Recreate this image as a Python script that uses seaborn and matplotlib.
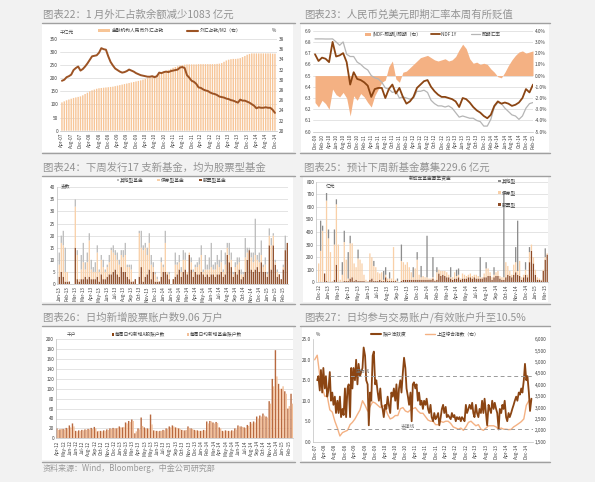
import numpy as np
import pandas as pd
import matplotlib
matplotlib.use("Agg")
import matplotlib.pyplot as plt
from matplotlib.patches import Rectangle
from matplotlib.lines import Line2D
from matplotlib.ticker import FuncFormatter
import seaborn as sns

# ======================= DATA =======================
# Panel 22: FX holdings (千亿元, bars) and FX holdings / M2 (%, right axis), Apr-07 .. Dec-14 monthly
p1_tick_labels = ["Apr-07", "Aug-07", "Dec-07", "Apr-08", "Aug-08", "Dec-08", "Apr-09", "Aug-09",
                  "Dec-09", "Apr-10", "Aug-10", "Dec-10", "Apr-11", "Aug-11", "Dec-11", "Apr-12",
                  "Aug-12", "Dec-12", "Apr-13", "Aug-13", "Dec-13", "Apr-14", "Aug-14", "Dec-14"]
p1_fx_holdings = [108, 112, 116, 119, 122, 125, 127, 129, 131,
                  135, 140, 145, 150, 154, 157, 160, 162, 163, 164, 165, 166,
                  167, 168, 170, 172, 174, 176, 178, 180, 182, 184, 186, 188,
                  190, 192, 195, 198, 201, 204, 207, 210, 213, 216, 220, 224,
                  228, 232, 236, 240, 243, 246, 249, 251, 252, 253, 253, 253,
                  253, 253, 254, 254, 254, 254, 254, 254, 254, 254, 255, 256,
                  258, 263, 268, 271, 273, 274, 274, 275, 277, 281, 285, 290,
                  293, 295, 295, 295, 295, 295, 295, 295, 295, 295, 294, 294]
p1_fx_m2 = [29.8, 30.0, 30.5, 30.7, 31.0, 31.9, 32.3, 32.6, 31.8,
            32.1, 32.6, 33.2, 33.9, 34.6, 34.7, 34.8, 35.3, 36.2, 36.0, 35.9, 34.6,
            33.5, 32.8, 32.2, 31.9, 31.6, 31.4, 31.5, 31.7, 32.0, 31.8, 31.6, 31.3,
            31.1, 30.9, 30.8, 30.7, 30.6, 30.6, 30.7, 30.5, 30.7, 31.4, 31.3, 31.5,
            31.6, 31.5, 31.7, 31.8, 31.9, 32.0, 32.4, 32.5, 32.3, 30.9, 30.4, 29.8,
            29.6, 29.2, 28.5, 28.4, 28.1, 27.9, 27.8, 27.5, 27.3, 27.2, 27.0, 26.7,
            26.6, 26.5, 26.3, 26.2, 26.0, 25.9, 25.7, 25.5, 26.1, 25.9, 25.9, 25.7,
            25.5, 25.2, 24.9, 24.4, 24.6, 24.5, 24.5, 24.6, 24.5, 24.5, 24.1, 23.5]

# Panel 23: USD/CNY, Dec-09 .. Feb-15 monthly
p2_months = pd.date_range("2009-12-01", periods=63, freq="MS")
p2_spread_pct = [-2.4, -2.8, -2.2, -2.5, -3.0, -1.2, -1.7, -1.9, -1.5, -2.0,
                 -3.6, -1.8, -2.2, -1.6, -1.9, -2.4, -2.8, -1.8, -1.2, -0.6,
                 -0.4, 0.8, 1.3, -0.3, -0.6, 0.3, 0.4, 0.7, 1.0, 1.3,
                 1.6, 1.7, 1.8, 1.6, 1.4, 1.3, 1.4, 1.5, 1.3, 1.4,
                 1.7, 2.3, 2.8, 2.4, 1.5, 1.1, 1.2, 1.0, 1.1, 1.0,
                 0.6, 0.3, -0.1, -0.2, 0.3, 0.9, 1.4, 1.8, 2.1, 2.2,
                 2.0, 2.1, 2.2]
p2_ndf = [6.69, 6.63, 6.66, 6.65, 6.62, 6.80, 6.67, 6.68, 6.70, 6.62,
          6.42, 6.53, 6.47, 6.46, 6.44, 6.41, 6.31, 6.38, 6.39, 6.39,
          6.30, 6.38, 6.42, 6.34, 6.39, 6.31, 6.25, 6.27, 6.31, 6.39,
          6.42, 6.45, 6.46, 6.40, 6.36, 6.33, 6.31, 6.31, 6.30, 6.29,
          6.27, 6.22, 6.30, 6.29, 6.26, 6.22, 6.19, 6.17, 6.14, 6.12,
          6.15, 6.23, 6.27, 6.25, 6.26, 6.25, 6.23, 6.24, 6.26, 6.30,
          6.38, 6.35, 6.42]
p2_spot = [6.827, 6.827, 6.827, 6.826, 6.826, 6.827, 6.80, 6.77, 6.80, 6.69,
           6.67, 6.67, 6.62, 6.60, 6.57, 6.55, 6.50, 6.48, 6.47, 6.44,
           6.39, 6.38, 6.35, 6.36, 6.30, 6.31, 6.30, 6.29, 6.30, 6.36,
           6.36, 6.37, 6.35, 6.28, 6.25, 6.23, 6.23, 6.22, 6.23, 6.21,
           6.17, 6.13, 6.14, 6.13, 6.12, 6.12, 6.10, 6.09, 6.05, 6.05,
           6.11, 6.22, 6.26, 6.25, 6.21, 6.18, 6.15, 6.14, 6.11, 6.14,
           6.21, 6.25, 6.26]

# Panel 24: weekly number of new funds (支数)
p3_weeks = pd.date_range("2013-01-04", periods=115, freq="7D")
p3_stock = [3, 5, 3, 1, 1, 1, 0, 0, 15, 2,
            1, 2, 2, 3, 2, 3, 2, 2, 2, 3,
            1, 4, 2, 2, 3, 4, 4, 5, 6, 4,
            3, 7, 5, 5, 3, 2, 1, 1, 2, 0,
            3, 7, 1, 3, 4, 6, 2, 5, 1, 1,
            1, 3, 5, 5, 4, 2, 0, 2, 3, 4,
            6, 3, 5, 6, 4, 12, 6, 3, 5, 4,
            4, 5, 4, 3, 4, 3, 4, 4, 3, 4,
            4, 5, 3, 4, 12, 9, 7, 3, 5, 4,
            6, 2, 3, 5, 10, 14, 6, 5, 6, 7,
            5, 9, 5, 5, 3, 16, 6, 16, 8, 3,
            4, 2, 6, 14, 17]
p3_bond = [5, 12, 13, 4, 4, 0, 0, 0, 17, 10,
           1, 4, 7, 3, 7, 15, 4, 3, 3, 10,
           4, 6, 5, 3, 4, 5, 10, 8, 6, 6,
           5, 5, 6, 7, 4, 5, 5, 0, 0, 0,
           18, 8, 13, 12, 8, 11, 6, 2, 3, 1,
           0, 6, 2, 12, 1, 2, 0, 0, 5, 4,
           3, 2, 5, 4, 1, 1, 3, 2, 2, 3,
           4, 7, 1, 3, 2, 3, 3, 2, 3, 4,
           3, 4, 2, 4, 3, 3, 3, 1, 2, 4,
           3, 2, 1, 6, 3, 0, 5, 4, 6, 3,
           4, 3, 2, 3, 1, 4, 10, 4, 1, 2,
           0, 0, 1, 0, 0]
p3_other = [5, 3, 6, 10, 0, 0, 0, 0, 3, 2,
            0, 6, 8, 3, 4, 3, 4, 2, 4, 3,
            1, 2, 3, 1, 1, 3, 1, 3, 2, 3,
            2, 2, 3, 5, 1, 1, 2, 0, 0, 0,
            1, 7, 2, 2, 3, 4, 4, 2, 1, 1,
            0, 2, 1, 5, 0, 1, 0, 0, 5, 1,
            3, 2, 4, 3, 0, 0, 2, 1, 1, 2,
            3, 4, 1, 6, 2, 5, 10, 2, 3, 4,
            3, 5, 1, 5, 2, 5, 3, 1, 2, 3,
            2, 2, 1, 8, 2, 1, 2, 4, 15, 2,
            4, 6, 1, 3, 1, 3, 3, 1, 1, 1,
            0, 0, 1, 6, 0]

# Panel 25: weekly new fund raising (亿元)
p4_weeks = pd.date_range("2012-12-21", periods=117, freq="7D")
p4_stock = [0, 5, 0, 70, 10, 5, 5, 5, 20, 140,
            5, 5, 5, 10, 10, 10, 30, 40, 10, 20,
            10, 10, 10, 10, 5, 5, 20, 30, 10, 10,
            10, 20, 10, 10, 40, 10, 10, 10, 10, 10,
            5, 0, 10, 20, 20, 20, 20, 20, 20, 20,
            20, 20, 20, 20, 20, 20, 20, 20, 30, 10,
            20, 70, 50, 60, 50, 40, 40, 30, 20, 30,
            30, 40, 20, 30, 30, 30, 40, 40, 30, 40,
            30, 30, 30, 30, 40, 40, 50, 50, 20, 40,
            50, 50, 30, 20, 20, 40, 60, 50, 40, 60,
            80, 60, 50, 20, 40, 60, 40, 160, 250, 150,
            60, 20, 20, 15, 90, 180, 220]
p4_bond = [150, 245, 410, 0, 640, 345, 235, 5, 280, 480,
           295, 15, 55, 310, 170, 20, 280, 270, 140, 100,
           180, 170, 140, 50, 15, 5, 210, 170, 120, 110,
           70, 50, 70, 10, 20, 20, 20, 20, 270, 10,
           5, 0, 160, 140, 120, 140, 100, 60, 20, 90,
           160, 40, 20, 30, 20, 20, 10, 10, 10, 10,
           60, 30, 40, 30, 40, 40, 20, 10, 20, 50,
           20, 20, 10, 40, 30, 20, 20, 30, 20, 20,
           30, 20, 10, 10, 30, 70, 60, 30, 20, 20,
           30, 40, 20, 20, 20, 120, 70, 40, 20, 80,
           80, 30, 120, 20, 20, 40, 20, 80, 50, 50,
           40, 20, 10, 5, 10, 20, 10]
p4_other = [0, 240, 40, 0, 60, 70, 0, 0, 120, 40,
            0, 0, 100, 90, 0, 210, 60, 0, 0, 0,
            70, 0, 0, 0, 0, 0, 0, 0, 40, 0,
            0, 0, 0, 70, 60, 0, 50, 0, 0, 0,
            20, 0, 130, 0, 0, 0, 0, 0, 80, 0,
            60, 0, 90, 0, 0, 330, 0, 0, 160, 0,
            40, 0, 0, 0, 0, 0, 0, 80, 0, 0,
            50, 50, 0, 0, 0, 0, 0, 0, 0, 0,
            0, 0, 160, 0, 0, 50, 0, 0, 0, 60,
            0, 0, 0, 0, 680, 0, 0, 0, 0, 0,
            120, 400, 0, 0, 0, 60, 0, 40, 0, 0,
            0, 0, 0, 0, 0, 70, 0]

# Panel 26: daily new accounts (千户), biweekly
p5_dates = pd.date_range("2012-04-06", periods=76, freq="14D")
p5_a_share = [20, 18, 19, 21, 26, 30, 15, 16, 17, 18,
              19, 21, 23, 14, 15, 16, 18, 20, 21, 20,
              24, 22, 32, 35, 38, 10, 20, 42, 22, 20,
              48, 16, 15, 15, 17, 20, 24, 26, 22, 20,
              17, 16, 24, 20, 17, 16, 15, 17, 34, 35,
              32, 33, 22, 15, 16, 15, 16, 20, 26, 24,
              22, 27, 33, 34, 44, 46, 50, 44, 75, 120,
              178, 110, 100, 95, 60, 90]
p5_fund = [17, 19, 18, 20, 22, 24, 14, 15, 16, 17,
           18, 19, 20, 15, 14, 15, 17, 19, 20, 21,
           22, 23, 30, 33, 35, 14, 18, 25, 20, 19,
           28, 15, 14, 15, 16, 19, 22, 24, 21, 19,
           16, 17, 21, 19, 16, 15, 15, 16, 30, 34,
           30, 31, 20, 14, 15, 14, 15, 18, 24, 23,
           21, 25, 30, 32, 40, 44, 46, 42, 70, 105,
           125, 100, 105, 90, 65, 70]

# Panel 27: account activity (%, semi-monthly) and SSE Composite (monthly, right axis)
p6_act_dates = pd.date_range("2008-01-01", periods=171, freq="SMS")
p6_activity = [15, 16, 12.5, 17.5, 12, 18, 13, 16, 11, 12.5,
               17, 10, 12, 9, 11, 7, 10, 7, 11, 6,
               8, 6.5, 13, 6, 13, 14, 6, 18, 13, 18,
               15, 20, 14, 19, 16, 17, 18, 23, 21, 15,
               14, 4, 12, 10, 21, 22, 14, 15, 12, 10,
               13, 9, 8, 6, 9, 8, 11, 9, 7, 12,
               11, 13, 10, 14, 8, 13, 15, 12, 17, 20.5,
               18, 13, 11, 9, 12, 5, 14, 14.5, 13, 14,
               10, 12, 9, 10, 8, 10, 9, 10.5, 8, 7,
               9, 6, 5, 7, 5.5, 6, 7, 4, 6, 8,
               9, 7, 8.5, 6, 6.5, 6, 5.5, 7,
               6, 6.5, 5, 6, 5.5, 6, 5, 6, 5.5, 5,
               9, 7, 8, 9, 8, 9.5, 7, 6, 9, 7,
               6, 8, 7, 10, 7, 10.5, 7, 4, 9, 8,
               7, 10, 8, 9.5, 8, 7, 3, 8, 7, 9,
               8, 10, 6, 5, 7, 6, 7, 8, 9, 10,
               11, 10, 12, 11.5, 13, 12, 15, 19, 15, 16, 12, 7.5, 10.5]
p6_sse_dates = pd.date_range("2007-12-01", periods=87, freq="MS")
p6_sse = [5100,
          5300, 4400, 3900, 3500, 3500, 2900, 2800, 2400, 2100, 1750, 1900, 1950,
          2000, 2250, 2350, 2500, 2700, 2900, 3300, 3100, 2850, 3050, 3250, 3200,
          3100, 3000, 3100, 3000, 2700, 2500, 2550, 2650, 2650, 2950, 3000, 2850,
          2800, 2900, 2950, 3000, 2850, 2750, 2750, 2600, 2450, 2400, 2400, 2250,
          2250, 2400, 2350, 2400, 2400, 2300, 2150, 2100, 2050, 2100, 2000, 2150,
          2350, 2400, 2300, 2200, 2250, 2050, 2000, 2100, 2200, 2200, 2200, 2150,
          2050, 2100, 2050, 2050, 2030, 2040, 2150, 2220, 2300, 2380, 2500, 3100,
          3300, 3300]
p6_upper_line = 16.1
p6_lower_line = 3.0

# ======================= STYLE / LAYOUT =======================
sns.set_theme(style="white")
plt.rcParams["font.family"] = ["Noto Sans CJK SC", "DejaVu Sans"]
plt.rcParams["axes.unicode_minus"] = False

W, H = 595, 482
fig = plt.figure(figsize=(W / 100, H / 100), dpi=100)
fig.patch.set_facecolor("#f2f2f2")

TICK = "#404040"
GRID = "#d9d9d9"
TITLE = "#939393"
RULE = "#a0a0a0"
TS = 3.4
C_PEACH = "#f7c597"
C_BROWN = "#8e4b26"
C_LINE = "#9c5324"
C_GRAY = "#bcbcbc"
C_ORANGE = "#f4b183"


def rect(l, t, r, b):
    return [l / W, 1 - b / H, (r - l) / W, (b - t) / H]


def fx(x):
    return x / W


def fy(y):
    return 1 - y / H


def box(l, t, r, b):
    fig.add_artist(Rectangle((fx(l), fy(b)), (r - l) / W, (b - t) / H, transform=fig.transFigure,
                             facecolor="white", edgecolor="none", zorder=-10))


def rule(x0, x1, y, lw=1.0):
    fig.add_artist(Line2D([fx(x0), fx(x1)], [fy(y), fy(y)], transform=fig.transFigure,
                          color=RULE, lw=lw, zorder=-5))


def ftext(x, y, s, size=TS, color=TICK, ha="left", **kw):
    fig.text(fx(x), fy(y), s, fontsize=size, color=color, ha=ha, va="center", **kw)


def lpatch(x, y, color, w=2.6, h=2.6):
    fig.add_artist(Rectangle((fx(x), fy(y + h / 2)), w / W, h / H, transform=fig.transFigure,
                             facecolor=color, edgecolor="none", zorder=10))


def lline(x0, x1, y, color, lw):
    fig.add_artist(Line2D([fx(x0), fx(x1)], [fy(y), fy(y)], transform=fig.transFigure,
                          color=color, lw=lw, zorder=10))


def unsnap(ax):
    for p in ax.patches:
        p.set_snap(False)
        p.set_linewidth(0)


def style_ax(ax, left_spine=False):
    for s in ["top", "right", "left"]:
        ax.spines[s].set_visible(False)
    ax.spines["bottom"].set_color("#bfbfbf")
    ax.spines["bottom"].set_linewidth(0.5)
    if left_spine:
        ax.spines["left"].set_visible(True)
        ax.spines["left"].set_color("#bfbfbf")
        ax.spines["left"].set_linewidth(0.5)
    ax.tick_params(axis="both", length=0, labelsize=TS, labelcolor=TICK, pad=1.5)
    ax.set_xlabel("")
    ax.set_ylabel("")


def style_twin(ax):
    for s in ax.spines.values():
        s.set_visible(False)
    ax.tick_params(axis="both", length=0, labelsize=TS, labelcolor=TICK, pad=1.5)
    ax.set_xlabel("")
    ax.set_ylabel("")


# panel boxes, rules and titles
box(41.7, 23.3, 293.3, 152)
box(300.7, 23.3, 548.7, 152)
box(41.7, 176.7, 293.3, 302)
box(303, 176, 548, 302)
box(41.7, 326.7, 293.3, 460)
box(302, 326, 549.7, 461)
for y in (22.7, 153.3, 175.7, 304.3, 325.7, 461.7):
    rule(41.7, 295, y)
for y in (22.7, 153.3, 175.5, 304.0, 325.5, 461.7):
    rule(300, 549.7, y)

TFS = 7.5
TW = "light"
ftext(43, 15, "图表22：1 月外汇占款余额减少1083 亿元", size=TFS, color=TITLE, fontweight=TW)
ftext(304, 15, "图表23：人民币兑美元即期汇率本周有所贬值", size=TFS, color=TITLE, fontweight=TW)
ftext(43, 167.7, "图表24：下周发行17 支新基金，均为股票型基金", size=TFS, color=TITLE, fontweight=TW)
ftext(304, 167.7, "图表25：预计下周新基金募集229.6 亿元", size=TFS, color=TITLE, fontweight=TW)
ftext(43, 317.7, "图表26：日均新增股票账户数9.06 万户", size=TFS, color=TITLE, fontweight=TW)
ftext(304, 317.7, "图表27：日均参与交易账户/有效账户升至10.5%", size=TFS, color=TITLE, fontweight=TW)
ftext(43, 468.3, "资料来源：Wind，Bloomberg，中金公司研究部", size=5.8, color="#9a9a9a", fontweight=TW)

# ---------------- Panel 22 ----------------
ax1 = fig.add_axes(rect(60.1, 39, 276.8, 130.7))
x1 = np.arange(len(p1_fx_holdings))
sns.barplot(x=x1, y=p1_fx_holdings, ax=ax1, color=C_PEACH, width=0.6, saturation=1, errorbar=None)
unsnap(ax1)
ax1.set_ylim(0, 350)
ax1.set_yticks(np.arange(0, 351, 50))
ax1.grid(axis="y", color=GRID, lw=0.5)
ax1.set_axisbelow(True)
style_ax(ax1)
ax1r = ax1.twinx()
sns.lineplot(x=x1, y=p1_fx_m2, ax=ax1r, color=C_LINE, lw=1.4)
ax1r.set_ylim(20, 38)
ax1r.set_yticks(np.arange(20, 39, 2))
style_twin(ax1r)
ax1.set_xlim(-0.8, len(x1) - 0.2)
ax1.set_xticks(x1[::4])
ax1.set_xticklabels(p1_tick_labels, rotation=90)
ftext(60, 32.3, "千亿元")
ftext(271.7, 31, "%")
lpatch(98, 30.7, C_PEACH, w=12, h=3.4)
ftext(112, 30.7, "金融机构人民币外汇占款")
lline(186.7, 198.3, 30.7, C_LINE, 1.5)
ftext(199.5, 30.7, "外汇占款/M2（右）")

# ---------------- Panel 23 ----------------
ax2 = fig.add_axes(rect(313, 30.7, 533, 131.7))
x2 = np.arange(len(p2_months))
ax2.fill_between(x2, 0, p2_spread_pct, color=C_ORANGE, lw=0)
ax2.set_ylim(-5, 4)
ax2.set_yticks(np.arange(-5, 4.1, 1))
ax2.yaxis.set_major_formatter(FuncFormatter(lambda v, p: f"{v:.1f}%"))
ax2.grid(axis="y", color=GRID, lw=0.5)
ax2.set_axisbelow(True)
style_ax(ax2)
ax2.yaxis.tick_right()
ax2r = ax2.twinx()
sns.lineplot(x=x2, y=p2_spot, ax=ax2r, color="#b5b5b5", lw=0.9)
sns.lineplot(x=x2, y=p2_ndf, ax=ax2r, color="#8b4513", lw=1.3)
ax2r.set_ylim(6.0, 6.9)
ax2r.set_yticks(np.round(np.arange(6.0, 6.91, 0.1), 1))
ax2r.yaxis.set_major_formatter(FuncFormatter(lambda v, p: f"{v:.1f}"))
style_twin(ax2r)
ax2r.yaxis.tick_left()
ax2.set_xlim(-0.57, len(x2) - 1)
ax2.set_xticks(x2[::2])
ax2.set_xticklabels([d.strftime("%b-%y") for d in p2_months[::2]], rotation=90)
ax2.tick_params(axis="y", labelright=True, labelleft=False)
ax2r.tick_params(axis="y", labelleft=True, labelright=False)
lpatch(364.7, 34.3, C_ORANGE, w=6.6, h=3.0)
ftext(372.5, 34.3, "(NDF-即期)/即期（右）")
lline(431, 440, 34.3, "#8b4513", 1.3)
ftext(441, 34.3, "NDF 1Y")
lline(471, 480, 34.3, "#b5b5b5", 0.9)
ftext(481.5, 34.3, "即期汇率")

# ---------------- Panel 24 ----------------
ax3 = fig.add_axes(rect(57.3, 187.3, 288.3, 284))
x3 = np.arange(len(p3_stock))
s3 = np.array(p3_stock)
b3 = np.array(p3_bond)
o3 = np.array(p3_other)
ax3.bar(x3, s3, width=0.65, color=C_BROWN, lw=0, snap=False)
ax3.bar(x3, b3, bottom=s3, width=0.65, color="#f9d0a8", lw=0, snap=False)
ax3.bar(x3, o3, bottom=s3 + b3, width=0.65, color=C_GRAY, lw=0, snap=False)
ax3.set_ylim(0, 40)
ax3.set_yticks(np.arange(0, 41, 5))
ax3.grid(axis="y", color=GRID, lw=0.5)
ax3.set_axisbelow(True)
style_ax(ax3, left_spine=True)
ax3.set_xlim(-1.0, len(x3) - 0.5)
ax3.set_xticks(x3[::4])
ax3.set_xticklabels([d.strftime("%b-%y") for d in p3_weeks[::4]], rotation=90)
ftext(60.5, 185.5, "支数")
lpatch(116.7, 180, C_GRAY)
ftext(120.2, 180, "其他型基金")
lpatch(157, 180, "#f9d0a8")
ftext(160.5, 180, "债券型基金")
lpatch(199, 180, C_BROWN)
ftext(202.5, 180, "股票型基金")

# ---------------- Panel 25 ----------------
ax4 = fig.add_axes(rect(316.3, 181.7, 548, 282.3))
x4 = np.arange(len(p4_stock))
s4 = np.array(p4_stock)
b4 = np.array(p4_bond)
o4 = np.array(p4_other)
ax4.bar(x4, s4, width=0.65, color=C_BROWN, lw=0, snap=False)
ax4.bar(x4, b4, bottom=s4, width=0.65, color="#f9d0a8", lw=0, snap=False)
ax4.bar(x4, o4, bottom=s4 + b4, width=0.65, color="#8c8c8c", lw=0, snap=False)
ax4.set_ylim(0, 800)
ax4.set_yticks(np.arange(0, 801, 100))
ax4.grid(axis="y", color=GRID, lw=0.5)
ax4.set_axisbelow(True)
style_ax(ax4, left_spine=True)
ax4.set_xlim(-1.2, len(x4) - 0.6)
ax4.set_xticks(x4[::5])
ax4.set_xticklabels([d.strftime("%b-%y") for d in p4_weeks[::5]], rotation=90)
ftext(430, 179, "新成立基金募集资金", ha="center")
ftext(326, 186.7, "亿元")
lpatch(498, 181, "#8c8c8c")
ftext(501.8, 181, "其他型")
lpatch(498, 192.3, "#f9d0a8")
ftext(501.8, 192.3, "债券型")
lpatch(498, 204.3, C_BROWN)
ftext(501.8, 204.3, "股票型")

# ---------------- Panel 26 ----------------
ax5 = fig.add_axes(rect(56, 339.3, 293.3, 438.3))
n5 = len(p5_a_share)
df5 = pd.DataFrame({
    "idx": np.concatenate([np.arange(n5), np.arange(n5)]),
    "value": p5_a_share + p5_fund,
    "series": ["每周日均新增A股账户数"] * n5 + ["每周日均新增基金账户数"] * n5,
})
sns.barplot(data=df5, x="idx", y="value", hue="series", palette=["#b8693f", "#f3bf98"],
            width=0.9, saturation=1, errorbar=None, ax=ax5, legend=False)
unsnap(ax5)
ax5.set_ylim(0, 200)
ax5.set_yticks(np.arange(0, 201, 20))
ax5.grid(axis="y", color=GRID, lw=0.5)
ax5.set_axisbelow(True)
style_ax(ax5, left_spine=True)
ax5.set_xlim(-0.5, n5 - 0.5)
ax5.set_xticks(np.arange(n5)[::2])
ax5.set_xticklabels([d.strftime("%b-%y") for d in p5_dates[::2]], rotation=90)
ftext(66.7, 334.3, "千户")
lpatch(111.7, 334.3, "#8b4513")
ftext(115, 334.3, "每周日均新增A股账户数")
lpatch(186.7, 334.3, "#f3bf98")
ftext(190, 334.3, "每周日均新增基金账户数")

# ---------------- Panel 27 ----------------
ax6 = fig.add_axes(rect(313, 339.3, 533, 441.7))
sns.lineplot(x=p6_sse_dates, y=p6_sse, ax=ax6, color=C_ORANGE, lw=1.0)
ax6.set_ylim(1500, 6000)
ax6.set_yticks(np.arange(1500, 6001, 500))
ax6.yaxis.set_major_formatter(FuncFormatter(lambda v, p: f"{int(v):,}"))
style_ax(ax6, left_spine=True)
ax6.yaxis.tick_right()
ax6r = ax6.twinx()
sns.lineplot(x=p6_act_dates, y=p6_activity, ax=ax6r, color="#8b4513", lw=1.3)
ax6r.axhline(p6_upper_line, xmin=0.075, xmax=1.0, color="#9a9a9a", lw=0.7, ls=(0, (4, 3)))
ax6r.axhline(p6_lower_line, xmin=0.065, xmax=1.0, color="#9a9a9a", lw=0.7, ls=(0, (4, 3)))
ax6r.set_ylim(0, 25)
ax6r.set_yticks(np.arange(0, 25.1, 5))
ax6r.yaxis.set_major_formatter(FuncFormatter(lambda v, p: f"{v:.1f}"))
style_twin(ax6r)
ax6r.yaxis.tick_left()
ax6.tick_params(axis="y", labelright=True, labelleft=False)
ax6r.tick_params(axis="y", labelleft=True, labelright=False)
p6_ticks = pd.date_range("2007-12-01", "2014-12-01", freq="4MS")
ax6.set_xlim(pd.Timestamp("2007-11-11"), pd.Timestamp("2015-02-20"))
ax6.set_xticks(p6_ticks)
ax6.set_xticklabels([d.strftime("%b-%y") for d in p6_ticks], rotation=90)
ax6r.text(pd.Timestamp("2009-04-15"), p6_upper_line + 0.4, "压力线", fontsize=TS, color="#707070", va="bottom")
ax6r.text(pd.Timestamp("2010-10-01"), p6_lower_line + 0.4, "支撑线", fontsize=TS, color="#707070", va="bottom")
ftext(316, 334.3, "%")
lline(371, 381, 334.3, "#8b4513", 1.5)
ftext(383, 334.3, "账户活跃度")
lline(424.7, 434.7, 334.3, C_ORANGE, 1.0)
ftext(436.5, 334.3, "上证综合指数（右）")

fig.savefig("out.png", dpi=100, facecolor=fig.get_facecolor())
